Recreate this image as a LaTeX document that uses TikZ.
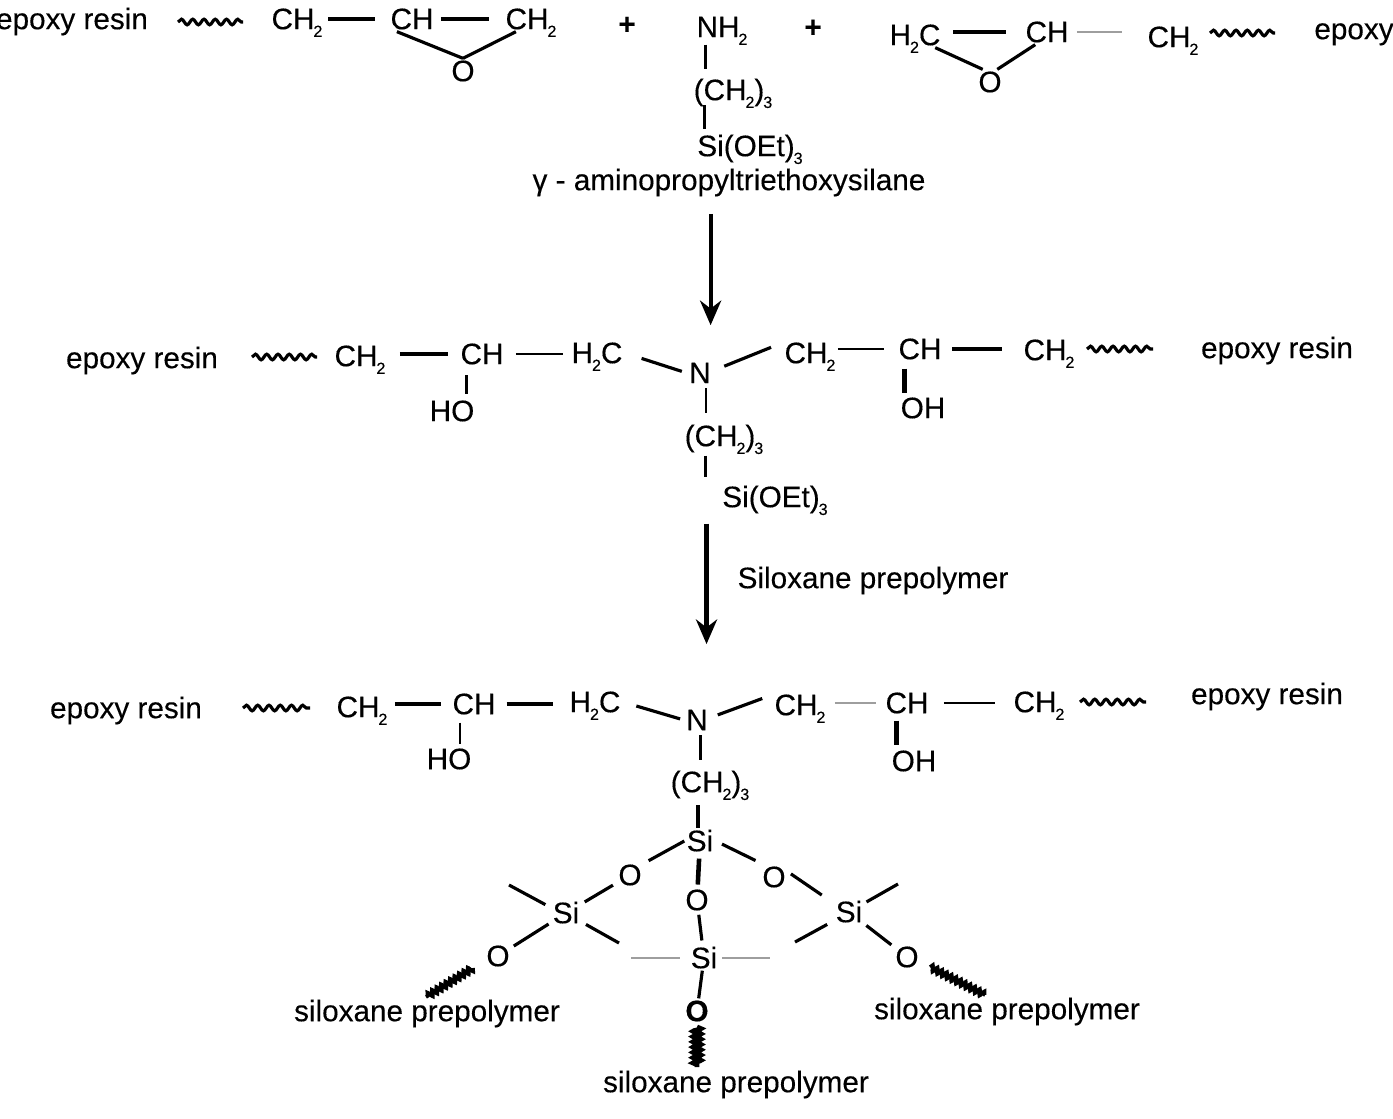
\documentclass[tikz,border=0pt]{standalone}
\usepackage{fontspec}
\setmainfont[FakeBold=0.25]{Liberation Sans}
\usepackage{tikz}
\usetikzlibrary{arrows.meta,decorations.pathmorphing}
\definecolor{faint bond}{rgb}{0.62, 0.62, 0.62}
\newcommand{\chemfont}{\fontsize{8.45}{10}\selectfont}
\newcommand{\chemsub}[1]{\kern-.3pt\raisebox{-2.2pt}{\fontsize{4.6}{6}\selectfont #1}}
\tikzset{
	every node/.style = {font=\chemfont, inner sep=.5pt, text height=5.8pt, text depth=0pt},
	bond/.style = {line width=.9pt},
	thin bond/.style = {line width=.55pt},
	pale bond/.style = {line width=.8pt, faint bond},
	heavy bond/.style = {line width=1.3pt},
	wavy/.style = {line width=.9pt, decorate, decoration={snake, amplitude=.8pt, segment length=3.2pt}},
	hairy/.style = {line width=1pt, decorate, decoration={snake, amplitude=.9pt, segment length=1.5pt}},
	reaction/.style = {line width=1.2pt, -{Stealth[length=7pt, width=6pt]}}
}
\begin{document}
\begin{tikzpicture}[x=.1mm, y=-.1mm]
		\useasboundingbox (0, 0) rectangle (1393, 1118);
		% free ends of the resin chains
		\foreach \name/\xa/\ya/\xb/\yb in {
			wa/178/22/243/22, wb/1210/33/1275/33, wc/252/357/317/357,
			wd/1087/349/1153/349, we/243/708/310/708, wf/1080/702/1146/702} {
			\coordinate (\name l) at (\xa, \ya);
			\coordinate (\name r) at (\xb, \yb);
			\draw[wavy] (\name l) -- (\name r);
		}
		% reactants
		\node (resinA) at (72, 19) {epoxy resin};
		\node (chtwoA) at (297, 19) {CH\chemsub{2}};
		\node (chA) at (412, 19) {CH};
		\node (chtwoB) at (531, 19) {CH\chemsub{2}};
		\node (oxA) at (463, 71) {O};
		\node (plusA) at (627, 24) {\textbf{+}};
		\node (amine) at (722, 27) {NH\chemsub{2}};
		\node (propA) at (733, 90) {(CH\chemsub{2})\chemsub{3}};
		\node (silaneA) at (750, 146) {Si(OEt)\chemsub{3}};
		\node (silaneName) at (729, 180) {γ - aminopropyltriethoxysilane};
		\node (plusB) at (813, 27) {\textbf{+}};
		\node (hctwoA) at (915, 35) {H\chemsub{2}C};
		\node (chB) at (1047, 32) {CH};
		\node (chtwoC) at (1173, 37) {CH\chemsub{2}};
		\node (oxB) at (990, 82) {O};
		\node (resinB) at (1354, 29) {epoxy};
		\draw[bond, shorten <=1pt, shorten >=3.6pt] (chtwoA.east) -- (chA.west);
		\draw[bond, shorten <=1.4pt, shorten >=4pt] (chA.east) -- (chtwoB.west);
		\draw[bond] (chA.-140) -- (oxA.north);
		\draw[bond] (chtwoB.-140) -- (oxA.north);
		\draw[bond, shorten <=1.4pt, shorten >=2.3pt] (amine.-143) -- (amine.-143 |- propA.north);
		\draw[bond, shorten <=.8pt, shorten >=1.1pt] (propA.-156) -- (propA.-156 |- silaneA.north);
		\draw[bond, shorten <=3pt, shorten >=5pt] (hctwoA.east |- chB.west) -- (chB.west);
		\draw[pale bond, shorten <=1.7pt, shorten >=6.5pt] (chB.east) -- (chB.east -| chtwoC.west);
		\draw[bond] (hctwoA.-32) -- (oxB.120);
		\draw[bond] (chB.-133) -- (oxB.60);
		% addition product
		\node (resinC) at (142, 358) {epoxy resin};
		\node (chtwoD) at (360, 356) {CH\chemsub{2}};
		\node (chC) at (482, 354) {CH};
		\node (hctwoB) at (597, 353) {H\chemsub{2}C};
		\node (nitA) at (700, 373) {N};
		\node (chtwoE) at (810, 353) {CH\chemsub{2}};
		\node (chD) at (920, 349) {CH};
		\node (chtwoF) at (1049, 350) {CH\chemsub{2}};
		\node (resinD) at (1277, 348) {epoxy resin};
		\node (hydA) at (452, 411) {HO};
		\node (hydB) at (923, 408) {OH};
		\node (propB) at (724, 436) {(CH\chemsub{2})\chemsub{3}};
		\node (silaneB) at (775, 497) {Si(OEt)\chemsub{3}};
		\draw[bond, shorten <=3.4pt, shorten >=3pt] (chtwoD.east |- chC.west) -- (chC.west);
		\draw[thin bond, shorten <=2.8pt, shorten >=1.7pt] (chC.east) -- (chC.east -| hctwoB.west);
		\draw[bond, shorten <=5pt, shorten >=1.5pt] (hctwoB.east) -- (nitA.west);
		\draw[bond, shorten <=3.4pt, shorten >=3.4pt] (nitA.10) -- (chtwoE.160);
		\draw[thin bond, shorten >=3.4pt] (chtwoE.east |- chD.west) -- (chD.west);
		\draw[bond, shorten <=2.3pt, shorten >=5.4pt] (chD.east) -- (chD.east -| chtwoF.west);
		\draw[bond, shorten <=2.5pt, shorten >=1.1pt] (chC.-141) -- (chC.-141 |- hydA.north);
		\draw[heavy bond, shorten <=2pt, shorten >=.8pt] (chD.-141) -- (chD.-141 |- hydB.north);
		\draw[thin bond, shorten <=.8pt, shorten >=3pt] (nitA.-63) -- (nitA.-63 |- propB.north);
		\draw[bond, shorten <=2pt, shorten >=2pt] (propB.-146) -- (propB.-146 |- silaneB.north);
		% cured network
		\node (resinE) at (126, 708) {epoxy resin};
		\node (chtwoG) at (362, 707) {CH\chemsub{2}};
		\node (chE) at (474, 704) {CH};
		\node (hctwoC) at (595, 702) {H\chemsub{2}C};
		\node (nitB) at (697, 720) {N};
		\node (chtwoH) at (800, 705) {CH\chemsub{2}};
		\node (chF) at (907, 703) {CH};
		\node (chtwoI) at (1039, 702) {CH\chemsub{2}};
		\node (resinF) at (1267, 694) {epoxy resin};
		\node (hydC) at (449, 759) {HO};
		\node (hydD) at (914, 761) {OH};
		\node (propC) at (710, 782) {(CH\chemsub{2})\chemsub{3}};
		\draw[bond, shorten <=1.4pt, shorten >=2.5pt] (chtwoG.east |- chE.west) -- (chE.west);
		\draw[bond, shorten <=2.5pt, shorten >=4pt] (chE.east) -- (chE.east -| hctwoC.west);
		\draw[bond, shorten <=4pt, shorten >=1.1pt] (hctwoC.east) -- (nitB.west);
		\draw[bond, shorten <=2.3pt, shorten >=3pt] (nitB.10) -- (chtwoH.160);
		\draw[pale bond, shorten <=2pt, shorten >=2pt] (chtwoH.east |- chF.west) -- (chF.west);
		\draw[thin bond, shorten <=3.7pt, shorten >=4.5pt] (chF.east) -- (chF.east -| chtwoI.west);
		\draw[thin bond, shorten <=1.7pt, shorten >=.6pt] (chE.-137) -- (chE.-137 |- hydC.north);
		\draw[heavy bond, shorten <=1.4pt, shorten >=1.1pt] (chF.-130) -- (chF.-130 |- hydD.north);
		\draw[bond, shorten <=.8pt, shorten >=2.8pt] (nitB.-76) -- (nitB.-76 |- propC.north);
		% siloxane cage
		\node (siTop) at (700, 841) {Si};
		\node (siLeft) at (566, 913) {Si};
		\node (siRight) at (849, 912) {Si};
		\node (siLow) at (704, 958) {Si};
		\node (oxLeft) at (630, 875) {O};
		\node (oxRight) at (774, 877) {O};
		\node (oxMid) at (697, 900) {O};
		\node (oxLowLeft) at (498, 956) {O};
		\node (oxLowRight) at (907, 957) {O};
		\node (oxLow) at (697, 1011) {\textbf{O}};
		\node (preLeft) at (427, 1011) {siloxane prepolymer};
		\node (preRight) at (1007, 1009) {siloxane prepolymer};
		\node (preLow) at (736, 1082) {siloxane prepolymer};
		\coordinate (stubA) at (509, 885);
		\coordinate (stubB) at (619, 943);
		\coordinate (stubC) at (898, 884);
		\coordinate (stubD) at (795, 942);
		\coordinate (stubE) at (631, 958);
		\coordinate (stubF) at (770, 958);
		\coordinate (tailA) at (473, 968);
		\coordinate (tailB) at (426, 997);
		\coordinate (tailC) at (930, 967);
		\coordinate (tailD) at (985, 995);
		\coordinate (tailE) at (697, 1027);
		\coordinate (tailF) at (697, 1067);
		\draw[heavy bond, shorten <=3pt] (propC.-133) -- (propC.-133 |- siTop.north);
		\draw[bond, shorten >=1.5pt] (siTop.west) -- (oxLeft.40);
		\draw[bond, shorten <=2pt, shorten >=2.5pt] (siTop.east) -- (oxRight.130);
		\draw[heavy bond, shorten <=1.4pt, shorten >=.8pt] (siTop) -- (oxMid);
		\draw[bond, shorten <=.6pt, shorten >=1.4pt] (oxMid) -- (siLow);
		\draw[bond, shorten <=1pt, shorten >=1pt] (oxLeft) -- (siLeft);
		\draw[bond, shorten <=1pt, shorten >=4pt] (oxRight.20) -- (siRight.150);
		\draw[bond, shorten <=1.6pt] (siLeft.160) -- (stubA);
		\draw[bond, shorten <=1.4pt] (siLeft.-30) -- (stubB);
		\draw[bond, shorten <=.6pt, shorten >=.6pt] (siLeft) -- (oxLowLeft);
		\draw[bond, shorten <=.6pt] (siRight.30) -- (stubC);
		\draw[bond, shorten <=2pt] (siRight.-150) -- (stubD);
		\draw[bond, shorten <=.6pt, shorten >=.6pt] (siRight) -- (oxLowRight);
		\draw[pale bond, shorten <=2.5pt] (siLow.west) -- (stubE);
		\draw[pale bond, shorten <=.8pt] (siLow.east) -- (stubF);
		\draw[bond] (siLow) -- (oxLow);
		\draw[hairy] (tailA) -- (tailB);
		\draw[hairy] (tailC) -- (tailD);
		\draw[hairy, line width=1.4pt, decoration={snake, amplitude=1.1pt, segment length=1.5pt}] (tailE) -- (tailF);
		% reaction arrows
		\node (stepLabel) at (873, 578) {Siloxane prepolymer};
		\draw[reaction, shorten <=6pt, shorten >=10pt] (silaneName.south -| nitA.50) -- (nitA.50);
		\draw[reaction, shorten <=4pt, shorten >=18pt] (silaneB.south -| nitB.53) -- (nitB.53);
	\end{tikzpicture}
\end{document}
